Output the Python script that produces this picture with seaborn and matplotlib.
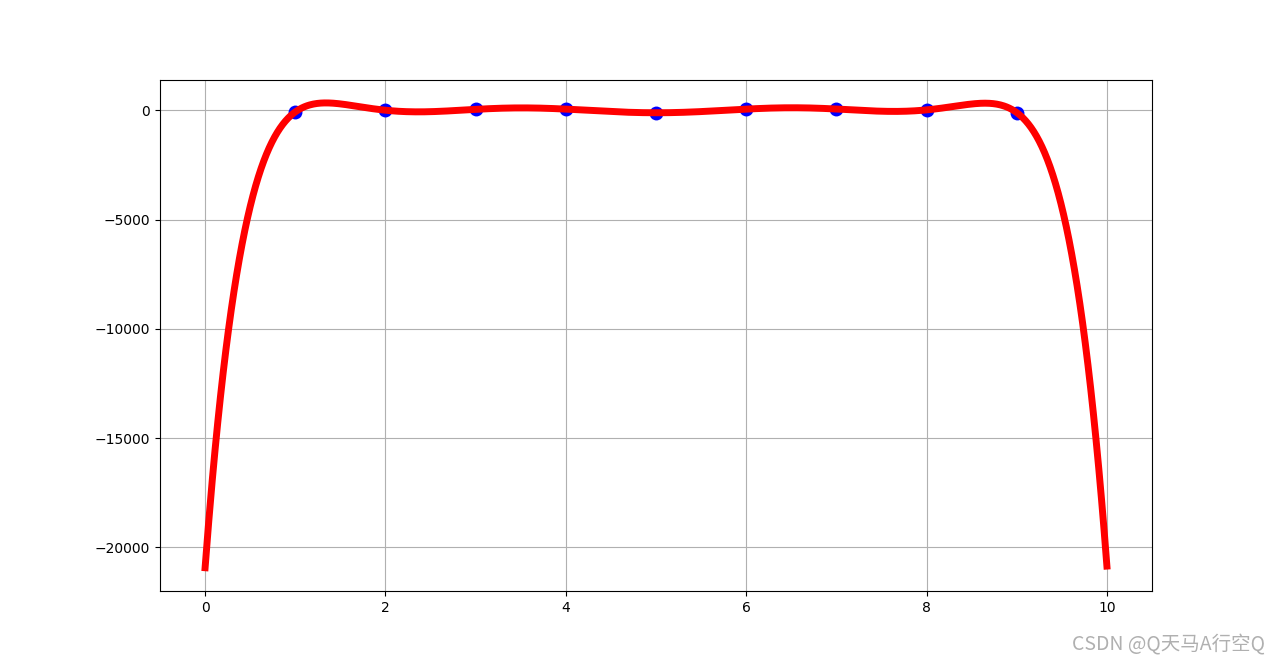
import numpy as np
import seaborn as sns
import matplotlib
matplotlib.use("Agg")
import matplotlib.pyplot as plt

# sample points
xPoints = [1, 2, 3, 4, 5, 6, 7, 8, 9]
yPoints = [-76, 2, 42, 53, -114, 53, 57, 17, -106]
polyOrder = 8
xStart, xEnd = 0, 10

# degree-8 interpolating polynomial through the points, drawn over 0..10
coeffs = np.polyfit(xPoints, yPoints, polyOrder)
xCurve = np.linspace(xStart, xEnd, 1000)
yCurve = np.polyval(coeffs, xCurve)

fig, ax = plt.subplots(figsize=(12.8, 6.64), dpi=100)
sns.scatterplot(x=xPoints, y=yPoints, color="blue", s=100, linewidth=0, ax=ax, zorder=2)
sns.lineplot(x=xCurve, y=yCurve, color="red", lw=5, ax=ax, zorder=3)
ax.grid(True)

fig.text(0.988, 0.028, "CSDN @Q天马A行空Q", ha="right", va="center",
         fontsize=14, color="#b0b0b0", family=["Noto Sans CJK SC", "DejaVu Sans"])

plt.savefig("out.png", dpi=100)
